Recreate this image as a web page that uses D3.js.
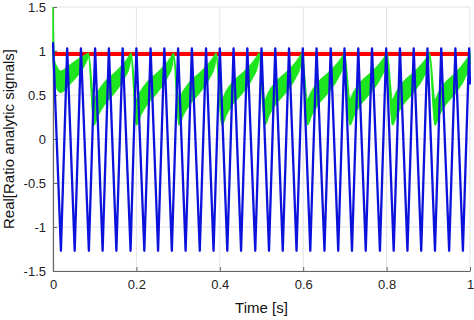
<!DOCTYPE html>
<html>
<head>
<meta charset="utf-8">
<script src="https://cdn.jsdelivr.net/npm/d3@7"></script>
<style>
  body { margin: 0; background: #fff; }
  text { font-family: "Liberation Sans", Arial, sans-serif; }
</style>
</head>
<body>
<div id="chart"></div>
<script>
// data
//================================
var xTicks = [0, 0.2, 0.4, 0.6, 0.8, 1];
var yTicks = [-1.5, -1, -0.5, 0, 0.5, 1, 1.5];
var yTickLabels = ["-1.5", "-1", "-0.5", "0", "0.5", "1", "1.5"];

// red reference line
var redLevel = 0.965;

// blue signal: turning points (start, trough/peak pairs, end)
var blueTime = [0,
  0.019, 0.034, 0.052, 0.067, 0.086, 0.101, 0.119, 0.134, 0.152, 0.167,
  0.186, 0.200, 0.219, 0.234, 0.252, 0.267, 0.285, 0.300, 0.318, 0.333,
  0.352, 0.367, 0.385, 0.400, 0.418, 0.433, 0.451, 0.466, 0.485, 0.500,
  0.518, 0.533, 0.551, 0.566, 0.584, 0.599, 0.617, 0.632, 0.651, 0.666,
  0.684, 0.699, 0.717, 0.732, 0.750, 0.765, 0.784, 0.799, 0.817, 0.832,
  0.850, 0.865, 0.883, 0.898, 0.916, 0.931, 0.950, 0.965, 0.983, 0.998,
  1.0];
var blueValue = [1.1,
  -1.27, 1.03, -1.27, 1.03, -1.27, 1.03, -1.27, 1.03, -1.27, 1.03,
  -1.27, 1.03, -1.27, 1.03, -1.27, 1.03, -1.27, 1.03, -1.27, 1.03,
  -1.27, 1.03, -1.27, 1.03, -1.27, 1.03, -1.27, 1.03, -1.27, 1.03,
  -1.27, 1.03, -1.27, 1.03, -1.27, 1.03, -1.27, 1.03, -1.27, 1.03,
  -1.27, 1.03, -1.27, 1.03, -1.27, 1.03, -1.27, 1.03, -1.27, 1.03,
  -1.27, 1.03, -1.27, 1.03, -1.27, 1.03, -1.27, 1.03, -1.27, 1.03,
  0.62];

// green band: upper and lower edges
var greenTime = [0, 0.003, 0.009, 0.018, 0.041, 0.065, 0.080, 0.085,
  0.098, 0.108, 0.123, 0.148, 0.172, 0.184, 0.187,
  0.200, 0.210, 0.225, 0.250, 0.274, 0.286, 0.289,
  0.302, 0.312, 0.327, 0.352, 0.376, 0.388, 0.391,
  0.405, 0.415, 0.430, 0.455, 0.479, 0.491, 0.494,
  0.508, 0.518, 0.533, 0.558, 0.582, 0.594, 0.597,
  0.610, 0.620, 0.635, 0.660, 0.684, 0.696, 0.699,
  0.712, 0.722, 0.737, 0.762, 0.786, 0.798, 0.801,
  0.814, 0.824, 0.839, 0.864, 0.888, 0.900, 0.903,
  0.916, 0.926, 0.941, 0.966, 0.990, 1.0];
var greenUpper = [1.5, 0.9, 0.82, 0.77, 0.84, 0.92, 0.96, 0.975,
  0.45, 0.54, 0.64, 0.75, 0.87, 0.95, 0.975,
  0.45, 0.54, 0.64, 0.75, 0.87, 0.95, 0.975,
  0.46, 0.54, 0.64, 0.75, 0.87, 0.95, 0.975,
  0.45, 0.54, 0.64, 0.75, 0.87, 0.95, 0.975,
  0.45, 0.54, 0.64, 0.75, 0.87, 0.95, 0.975,
  0.45, 0.54, 0.64, 0.75, 0.87, 0.95, 0.975,
  0.46, 0.54, 0.64, 0.75, 0.87, 0.95, 0.975,
  0.45, 0.54, 0.64, 0.75, 0.87, 0.95, 0.975,
  0.45, 0.54, 0.64, 0.75, 0.89, 0.96];
var greenLower = [0.97, 0.68, 0.58, 0.53, 0.63, 0.76, 0.88, 0.94,
  0.16, 0.27, 0.39, 0.53, 0.70, 0.84, 0.94,
  0.16, 0.27, 0.39, 0.53, 0.70, 0.84, 0.94,
  0.16, 0.27, 0.39, 0.53, 0.70, 0.84, 0.94,
  0.16, 0.27, 0.39, 0.53, 0.70, 0.84, 0.94,
  0.16, 0.27, 0.39, 0.53, 0.70, 0.84, 0.94,
  0.16, 0.27, 0.39, 0.53, 0.70, 0.84, 0.94,
  0.16, 0.27, 0.39, 0.53, 0.70, 0.84, 0.94,
  0.16, 0.27, 0.39, 0.53, 0.70, 0.84, 0.94,
  0.16, 0.27, 0.39, 0.53, 0.72, 0.86];

// Step 1: Set up our chart
//================================
var svgWidth = 474;
var svgHeight = 320;

var margin = { top: 7, right: 4, bottom: 49, left: 53 };

var width = svgWidth - margin.left - margin.right;
var height = svgHeight - margin.top - margin.bottom;

var svg = d3.select("#chart")
  .append("svg")
  .attr("width", svgWidth)
  .attr("height", svgHeight);

var chartGroup = svg.append("g")
  .attr("transform", `translate(${margin.left}, ${margin.top})`);

// Step 2: scales
//================================
var xScale = d3.scaleLinear().domain([0, 1]).range([0, width]);
var yScale = d3.scaleLinear().domain([-1.5, 1.5]).range([height, 0]);

// grid lines
chartGroup.append("g")
  .selectAll("line")
  .data(yTicks)
  .enter()
  .append("line")
  .attr("x1", 0)
  .attr("x2", width)
  .attr("y1", d => yScale(d))
  .attr("y2", d => yScale(d))
  .attr("stroke", "#e3e3e3")
  .attr("stroke-width", 1);

chartGroup.append("g")
  .selectAll("line")
  .data(xTicks)
  .enter()
  .append("line")
  .attr("x1", d => xScale(d))
  .attr("x2", d => xScale(d))
  .attr("y1", 0)
  .attr("y2", height)
  .attr("stroke", "#e3e3e3")
  .attr("stroke-width", 1);

// Step 3: axes (drawn under the signals)
//================================
var bottomAxis = d3.axisBottom(xScale)
  .tickValues(xTicks)
  .tickFormat(d3.format("~g"))
  .tickSizeInner(-4)
  .tickSizeOuter(0)
  .tickPadding(9);

var leftAxis = d3.axisLeft(yScale)
  .tickValues(yTicks)
  .tickFormat((d, i) => yTickLabels[i])
  .tickSizeInner(-4)
  .tickSizeOuter(0)
  .tickPadding(7);

var xAxis = chartGroup.append("g")
  .attr("transform", `translate(0, ${height})`)
  .call(bottomAxis);

var yAxis = chartGroup.append("g")
  .call(leftAxis);

[xAxis, yAxis].forEach(function(ax) {
  ax.select(".domain").attr("stroke", "#666").attr("stroke-width", 1.2);
  ax.selectAll(".tick line").attr("stroke", "#666");
  ax.selectAll(".tick text")
    .attr("fill", "#222")
    .style("font-size", "13px")
    .style("font-family", "'Liberation Sans', Arial, sans-serif");
});

// Step 4: the signals
//================================
svg.append("clipPath").attr("id", "plotClip")
  .append("rect")
  .attr("x", -1).attr("y", -2)
  .attr("width", width + 2).attr("height", height + 4);

var plot = chartGroup.append("g").attr("clip-path", "url(#plotClip)");

// red line
plot.append("line")
  .attr("x1", xScale(0))
  .attr("x2", xScale(1))
  .attr("y1", yScale(redLevel))
  .attr("y2", yScale(redLevel))
  .attr("stroke", "#ff0000")
  .attr("stroke-width", 4);

// green band
var greenData = greenTime.map((t, i) => ({ t: t, hi: greenUpper[i], lo: greenLower[i] }));
var greenArea = d3.area()
  .x(d => xScale(d.t))
  .y0(d => yScale(d.lo))
  .y1(d => yScale(d.hi))
  .curve(d3.curveMonotoneX);

plot.append("path")
  .datum(greenData)
  .attr("d", greenArea)
  .attr("fill", "#1ee61e")
  .attr("stroke", "#1ee61e")
  .attr("stroke-width", 1.4);

// blue line
var blueData = blueTime.map((t, i) => ({ t: t, v: blueValue[i] }));
var blueLine = d3.line()
  .x(d => xScale(d.t))
  .y(d => yScale(d.v));

plot.append("path")
  .datum(blueData)
  .attr("d", blueLine)
  .attr("fill", "none")
  .attr("stroke", "#0b12dc")
  .attr("stroke-width", 2.3)
  .attr("stroke-linejoin", "round");

// axis titles
chartGroup.append("text")
  .attr("x", width / 2)
  .attr("y", height + 42)
  .attr("text-anchor", "middle")
  .attr("fill", "#111")
  .style("font-size", "15px")
  .text("Time [s]");

chartGroup.append("text")
  .attr("transform", "rotate(-90)")
  .attr("x", -height / 2)
  .attr("y", 14 - margin.left)
  .attr("text-anchor", "middle")
  .attr("fill", "#111")
  .style("font-size", "15px")
  .text("Real[Ratio analytic signals]");
</script>
</body>
</html>
